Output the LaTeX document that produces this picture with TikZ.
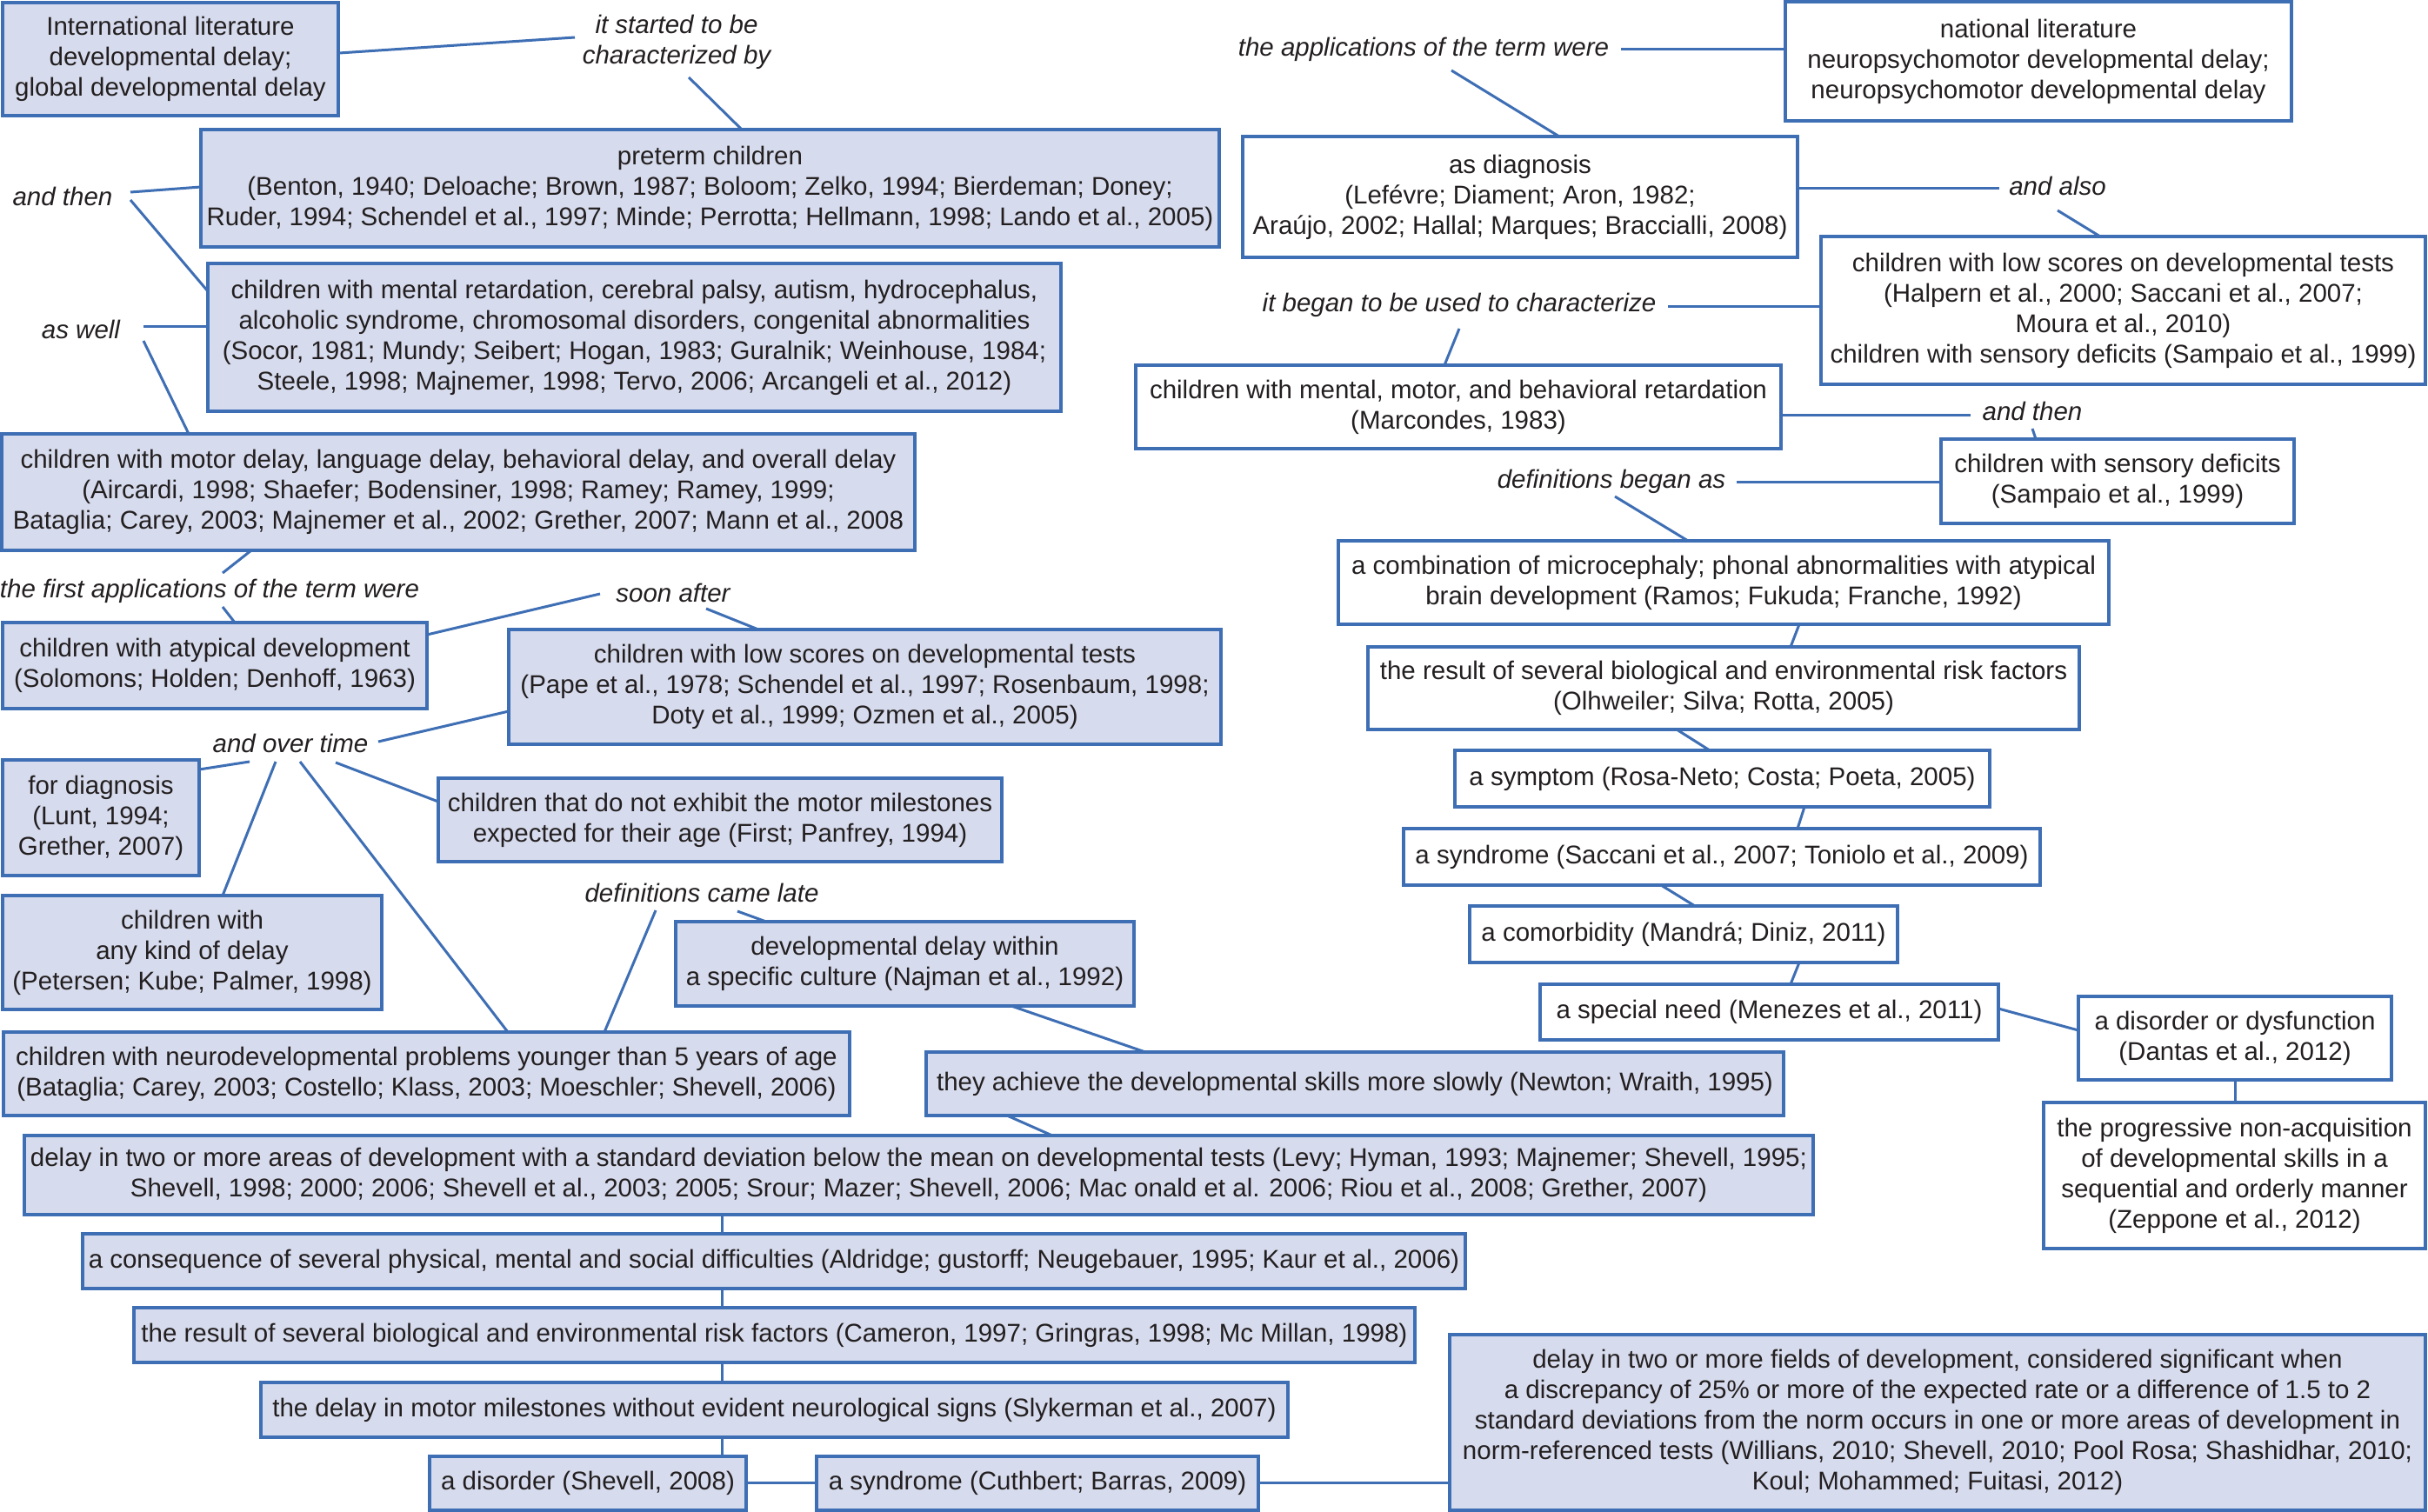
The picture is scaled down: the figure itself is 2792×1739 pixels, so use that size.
\documentclass[tikz,border=0pt]{standalone}
\usepackage{fontspec}
\setmainfont{Liberation Sans}
\usetikzlibrary{calc}
\definecolor{bl}{RGB}{62,110,180}
\definecolor{fl}{RGB}{214,219,237}
\definecolor{tx}{RGB}{35,31,32}
\begin{document}
\begin{tikzpicture}[x=1pt,y=-1pt,
 base/.style={draw=bl, line width=3.5pt, anchor=north west, inner sep=0pt, outer sep=0pt, align=center, text=tx, font=\fontsize{29.5}{35}\selectfont},
 fbox/.style={base, fill=fl},
 wbox/.style={base, fill=white},
 lab/.style={inner sep=0pt, text=tx, font=\fontsize{29.5}{35}\selectfont\itshape, align=center},
 con/.style={draw=bl, line width=3pt}]
\fill[white] (0,0) rectangle (2792,1739);
\useasboundingbox (0,0) rectangle (2792,1739);
% ---- left, filled boxes
\node[fbox, minimum width=386, minimum height=130] (A) at (3,3) {International literature\\developmental delay;\\global developmental delay};
\node[fbox, minimum width=1171, minimum height=135] (B) at (231,149) {preterm children\\(Benton, 1940; Deloache; Brown, 1987; Boloom; Zelko, 1994; Bierdeman; Doney;\\Ruder, 1994; Schendel et al., 1997; Minde; Perrotta; Hellmann, 1998; Lando et al., 2005)};
\node[fbox, minimum width=981, minimum height=170] (C) at (239,303) {children with mental retardation, cerebral palsy, autism, hydrocephalus,\\alcoholic syndrome, chromosomal disorders, congenital abnormalities\\(Socor, 1981; Mundy; Seibert; Hogan, 1983; Guralnik; Weinhouse, 1984;\\Steele, 1998; Majnemer, 1998; Tervo, 2006; Arcangeli et al., 2012)};
\node[fbox, minimum width=1050, minimum height=134] (D) at (2,499) {children with motor delay, language delay, behavioral delay, and overall delay\\(Aircardi, 1998; Shaefer; Bodensiner, 1998; Ramey; Ramey, 1999;\\Bataglia; Carey, 2003; Majnemer et al., 2002; Grether, 2007; Mann et al., 2008};
\node[fbox, minimum width=488, minimum height=99] (E) at (3,716) {children with atypical development\\(Solomons; Holden; Denhoff, 1963)};
\node[fbox, minimum width=819, minimum height=132] (F) at (585,724) {children with low scores on developmental tests\\(Pape et al., 1978; Schendel et al., 1997; Rosenbaum, 1998;\\Doty et al., 1999; Ozmen et al., 2005)};
\node[fbox, minimum width=226, minimum height=133] (G) at (3,874) {for diagnosis\\(Lunt, 1994;\\Grether, 2007)};
\node[fbox, minimum width=648, minimum height=96] (H) at (504,895) {children that do not exhibit the motor milestones\\expected for their age (First; Panfrey, 1994)};
\node[fbox, minimum width=436, minimum height=131] (I) at (3,1030) {children with\\any kind of delay\\(Petersen; Kube; Palmer, 1998)};
\node[fbox, minimum width=527, minimum height=97] (J) at (777,1060) {developmental delay within\\a specific culture (Najman et al., 1992)};
\node[fbox, minimum width=973, minimum height=96] (K) at (4,1187) {children with neurodevelopmental problems younger than 5 years of age\\(Bataglia; Carey, 2003; Costello; Klass, 2003; Moeschler; Shevell, 2006)};
\node[fbox, minimum width=986, minimum height=73] (L) at (1065,1210) {they achieve the developmental skills more slowly (Newton; Wraith, 1995)};
\node[fbox, minimum width=2057, minimum height=91] (M) at (28,1306) {delay in two or more areas of development with a standard deviation below the mean on developmental tests (Levy; Hyman, 1993; Majnemer; Shevell, 1995;\\Shevell, 1998; 2000; 2006; Shevell et al., 2003; 2005; Srour; Mazer; Shevell, 2006; Mac onald et al. 2006; Riou et al., 2008; Grether, 2007)};
\node[fbox, minimum width=1590, minimum height=63] (N) at (95,1419) {a consequence of several physical, mental and social difficulties (Aldridge; gustorff; Neugebauer, 1995; Kaur et al., 2006)};
\node[fbox, minimum width=1473, minimum height=63] (O) at (154,1504) {the result of several biological and environmental risk factors (Cameron, 1997; Gringras, 1998; Mc Millan, 1998)};
\node[fbox, minimum width=1181, minimum height=63] (P) at (300,1590) {the delay in motor milestones without evident neurological signs (Slykerman et al., 2007)};
\node[fbox, minimum width=364, minimum height=62] (Q) at (494,1675) {a disorder (Shevell, 2008)};
\node[fbox, minimum width=508, minimum height=62] (R) at (939,1675) {a syndrome (Cuthbert; Barras, 2009)};
\node[fbox, minimum width=1122, minimum height=202] (S) at (1667,1535) {delay in two or more fields of development, considered significant when\\a discrepancy of 25\% or more of the expected rate or a difference of 1.5 to 2\\standard deviations from the norm occurs in one or more areas of development in\\norm-referenced tests (Willians, 2010; Shevell, 2010; Pool Rosa; Shashidhar, 2010;\\Koul; Mohammed; Fuitasi, 2012)};
% ---- right, white boxes
\node[wbox, minimum width=582, minimum height=137] (T) at (2053,2) {national literature\\neuropsychomotor developmental delay;\\neuropsychomotor developmental delay};
\node[wbox, minimum width=638, minimum height=139] (U) at (1429,157) {as diagnosis\\(Lefévre; Diament; Aron, 1982;\\Araújo, 2002; Hallal; Marques; Braccialli, 2008)};
\node[wbox, minimum width=695, minimum height=170] (V) at (2094,272) {children with low scores on developmental tests\\(Halpern et al., 2000; Saccani et al., 2007;\\Moura et al., 2010)\\children with sensory deficits (Sampaio et al., 1999)};
\node[wbox, minimum width=742, minimum height=96] (W) at (1306,420) {children with mental, motor, and behavioral retardation\\(Marcondes, 1983)};
\node[wbox, minimum width=406, minimum height=97] (X) at (2232,505) {children with sensory deficits\\(Sampaio et al., 1999)};
\node[wbox, minimum width=886, minimum height=96] (Y) at (1539,622) {a combination of microcephaly; phonal abnormalities with atypical\\brain development (Ramos; Fukuda; Franche, 1992)};
\node[wbox, minimum width=818, minimum height=95] (Z) at (1573,744) {the result of several biological and environmental risk factors\\(Olhweiler; Silva; Rotta, 2005)};
\node[wbox, minimum width=615, minimum height=65] (AA) at (1673,863) {a symptom (Rosa-Neto; Costa; Poeta, 2005)};
\node[wbox, minimum width=732, minimum height=65] (AB) at (1614,953) {a syndrome (Saccani et al., 2007; Toniolo et al., 2009)};
\node[wbox, minimum width=492, minimum height=65] (AC) at (1690,1042) {a comorbidity (Mandrá; Diniz, 2011)};
\node[wbox, minimum width=527, minimum height=64] (AD) at (1771,1132) {a special need (Menezes et al., 2011)};
\node[wbox, minimum width=360, minimum height=96] (AE) at (2390,1146) {a disorder or dysfunction\\(Dantas et al., 2012)};
\node[wbox, minimum width=439, minimum height=168] (AF) at (2350,1268) {the progressive non-acquisition\\of developmental skills in a\\sequential and orderly manner\\(Zeppone et al., 2012)};
% ---- labels
\node[lab] (l1) at (778,48) {it started to be\\characterized by};
\node[lab] (l2) at (72,226) {and then};
\node[lab] (l3) at (93,379) {as well};
\node[lab] (l4) at (241,680) {the first applications of the term were};
\node[lab] (l5) at (774,682) {soon after};
\node[lab] (l6) at (334,855) {and over time};
\node[lab] (l7) at (807,1027) {definitions came late};
\node[lab] (r1) at (1637,57) {the applications of the term were};
\node[lab] (r2) at (2366,214) {and also};
\node[lab] (r3) at (1678,351) {it began to be used to characterize};
\node[lab] (r4) at (2337,473) {and then};
\node[lab] (r5) at (1853,554) {definitions began as};
% ---- connectors
\draw[con] ($(A.north west)+(387,58)$) -- ($(l1)+(-117,-5)$);
\draw[con] ($(l1)+(14,41)$) -- ($(B.north west)+(622,0)$);
\draw[con] ($(l2)+(78,-5)$) -- ($(B.north west)+(0,66)$);
\draw[con] ($(l2)+(78,4)$) -- ($(C.north west)+(0,32)$);
\draw[con] ($(l3)+(72,-4)$) -- ($(C.north west)+(0,72)$);
\draw[con] ($(l3)+(72,13)$) -- ($(D.north west)+(215,0)$);
\draw[con] ($(D.north west)+(287,134)$) -- ($(l4)+(15,-21)$);
\draw[con] ($(l4)+(15,18)$) -- ($(E.north west)+(267,0)$);
\draw[con] ($(E.north west)+(488,14)$) -- ($(l5)+(-84,1)$);
\draw[con] ($(l5)+(38,18)$) -- ($(F.north west)+(287,0)$);
\draw[con] ($(F.north west)+(0,94)$) -- ($(l6)+(101,-2)$);
\draw[con] ($(l6)+(-47,21)$) -- ($(G.north west)+(226,11)$);
\draw[con] ($(l6)+(-17,21)$) -- ($(I.north west)+(253,0)$);
\draw[con] ($(l6)+(11,21)$) -- ($(K.north west)+(580,0)$);
\draw[con] ($(l6)+(52,22)$) -- ($(H.north west)+(0,27)$);
\draw[con] ($(l7)+(-53,20)$) -- ($(K.north west)+(691,0)$);
\draw[con] ($(l7)+(41,21)$) -- ($(J.north west)+(104,0)$);
\draw[con] ($(J.north west)+(386,97)$) -- ($(L.north west)+(252,0)$);
\draw[con] ($(L.north west)+(93,73)$) -- ($(M.north west)+(1182,0)$);
\draw[con] ($(M.north west)+(802,91)$) -- ($(N.north west)+(735,0)$);
\draw[con] ($(N.north west)+(735,63)$) -- ($(O.north west)+(676,0)$);
\draw[con] ($(O.north west)+(676,63)$) -- ($(P.north west)+(530,0)$);
\draw[con] ($(P.north west)+(530,63)$) -- ($(Q.north west)+(336,0)$);
\draw[con] ($(Q.north west)+(364,30)$) -- ($(R.north west)+(0,30)$);
\draw[con] ($(R.north west)+(508,30)$) -- ($(S.north west)+(0,170)$);
\draw[con] ($(r1)+(227,0)$) -- ($(T.north west)+(0,55)$);
\draw[con] ($(r1)+(32,24)$) -- ($(U.north west)+(364,0)$);
\draw[con] ($(U.north west)+(638,60)$) -- ($(r2)+(-67,3)$);
\draw[con] ($(r2)+(0,28)$) -- ($(V.north west)+(321,0)$);
\draw[con] ($(r3)+(240,1)$) -- ($(V.north west)+(0,80)$);
\draw[con] ($(r3)+(0,27)$) -- ($(W.north west)+(355,0)$);
\draw[con] ($(W.north west)+(742,57)$) -- ($(r4)+(-71,4)$);
\draw[con] ($(r4)+(0,20)$) -- ($(X.north west)+(109,0)$);
\draw[con] ($(r5)+(144,0)$) -- ($(X.north west)+(0,49)$);
\draw[con] ($(r5)+(4,17)$) -- ($(Y.north west)+(402,0)$);
\draw[con] ($(Y.north west)+(530,96)$) -- ($(Z.north west)+(486,0)$);
\draw[con] ($(Z.north west)+(355,95)$) -- ($(AA.north west)+(293,0)$);
\draw[con] ($(AA.north west)+(402,65)$) -- ($(AB.north west)+(453,0)$);
\draw[con] ($(AB.north west)+(296,65)$) -- ($(AC.north west)+(259,0)$);
\draw[con] ($(AC.north west)+(379,65)$) -- ($(AD.north west)+(288,0)$);
\draw[con] ($(AD.north west)+(527,28)$) -- ($(AE.north west)+(0,39)$);
\draw[con] ($(AE.north west)+(180,96)$) -- ($(AF.north west)+(220,0)$);
\end{tikzpicture}
\end{document}
